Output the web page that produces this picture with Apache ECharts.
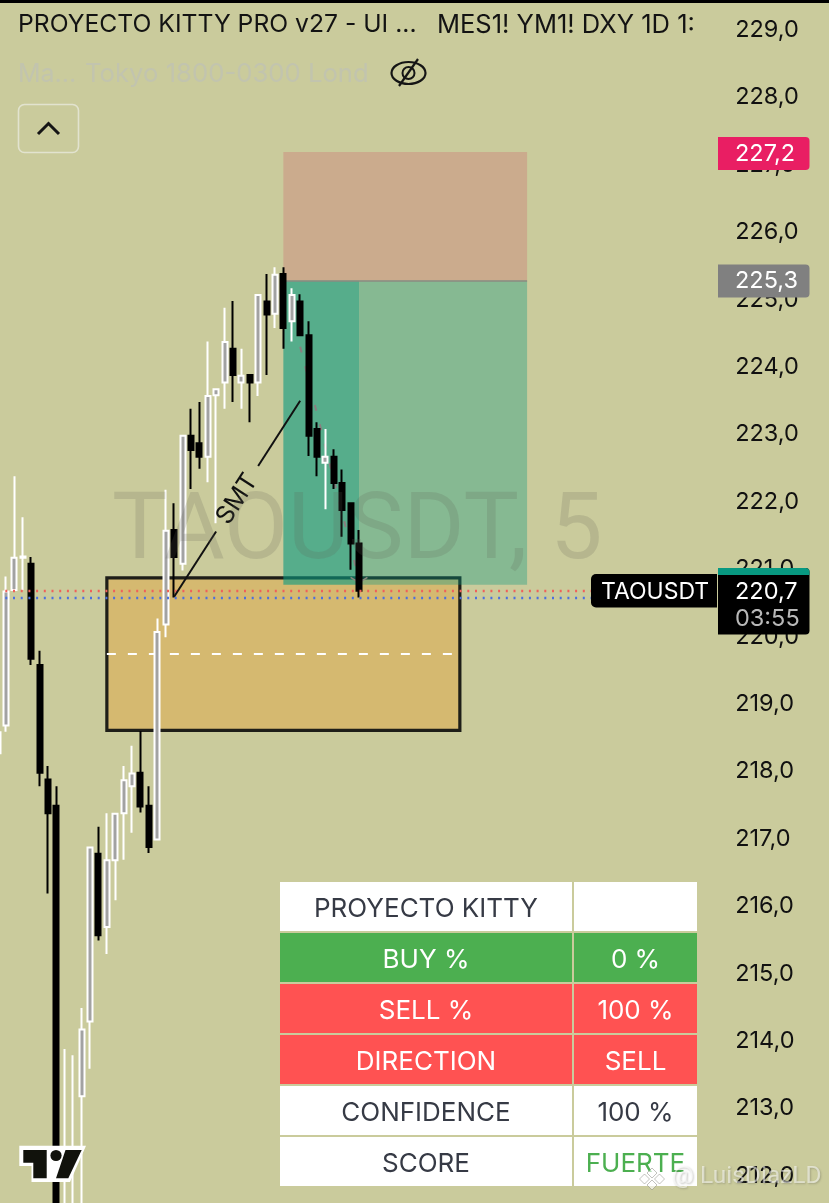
<!DOCTYPE html>
<html><head><meta charset="utf-8">
<style>html,body{margin:0;padding:0;background:#cacb9c}#c{width:829px;height:1203px}</style>
<script src="https://cdn.jsdelivr.net/npm/echarts@6/dist/echarts.min.js"></script>
</head><body><div id="c"></div>
<script>
// candle values, left to right (off-screen lows are estimates)
const opens  = [218.27,218.68,220.69,221.17,221.08,219.58,217.88,217.49,211.30,211.30,213.18,214.29,216.78,215.69,216.68,217.38,217.78,217.98,217.49,216.99,220.18,221.58,221.08,222.98,222.87,222.67,223.58,223.77,224.27,223.77,223.88,223.77,224.97,224.79,225.38,224.68,224.97,224.47,223.08,222.58,222.67,222.28,221.98,221.38];
const closes = [218.58,220.67,221.17,221.19,219.67,217.98,217.38,211.20,211.45,211.40,214.17,216.87,215.57,216.68,217.37,217.87,217.97,217.48,216.88,220.07,221.57,221.18,222.98,222.77,222.67,223.57,223.67,224.37,223.88,223.87,223.77,225.07,224.78,225.37,224.58,225.07,224.47,222.98,222.67,222.67,222.28,221.88,221.38,220.68];
const lows   = [218.27,218.59,220.69,220.69,219.58,217.78,216.19,211.20,211.30,211.30,211.40,213.59,215.49,215.29,216.09,216.69,217.09,217.39,216.79,216.99,219.99,220.58,220.98,222.19,222.49,222.29,221.68,223.38,223.48,223.38,223.18,223.57,223.88,224.58,224.27,224.38,224.47,222.68,222.38,221.89,222.19,221.48,220.99,220.58];
const highs  = [218.58,220.89,222.38,221.77,221.18,219.79,218.08,217.78,213.88,213.79,214.49,216.87,217.18,217.38,217.37,218.08,218.38,218.60,217.78,220.27,222.18,221.98,222.98,223.38,223.48,224.38,223.67,224.88,224.98,224.27,223.88,225.07,225.38,225.48,225.48,225.17,225.08,224.68,223.18,223.08,222.78,222.48,221.98,221.58];
const categoryCount = 86;
const categories = Array.from({length: categoryCount}, (_, i) => 'c' + i);
const tickMin = 211, tickMax = 230, tickStep = 1;

const stopLevel = 227.19, entryLevel = 225.28, targetLevel = 220.77;
const boxTop = 220.87, boxBottom = 218.61, boxMid = 219.745;
const priceRed = 220.68, priceBlue = 220.58;
const smtLow = [[21,220.59],[26,221.56]];
const smtHigh = [[31,222.53],[36,223.50]];
const dashedPath = [[36,224.30],[43,220.84]];
const arrowHead = [[42,220.88],[43,220.80],[44,220.88]];

const tableRows = [
  ['PROYECTO KITTY','', '#ffffff','#363a45','#363a45'],
  ['BUY %','0 %','#4caf50','#ffffff','#ffffff'],
  ['SELL %','100 %','#ff5252','#ffffff','#ffffff'],
  ['DIRECTION','SELL','#ff5252','#ffffff','#ffffff'],
  ['CONFIDENCE','100 %','#ffffff','#363a45','#363a45'],
  ['SCORE','FUERTE','#ffffff','#363a45','#4caf50']
];

const INTER = 'Inter, sans-serif', ROBOTO = 'Roboto, sans-serif';
function txt(x,y,text,size,fill,fam,align,z,extra){
  return {type:'text',z:z||20,silent:true,style:Object.assign({x,y,text,fontSize:size,fontFamily:fam||INTER,fill,
    align:align||'left',textAlign:align||'left',verticalAlign:'middle',textVerticalAlign:'middle'},extra||{})};
}
function box(x,y,w,h,fill,r,z,extra){
  return {type:'rect',z:z||20,silent:true,shape:{x,y,width:w,height:h,r:r||0},style:Object.assign({fill},extra||{})};
}

const g = [];
// big symbol watermark
g.push(txt(112,535,'TAOUSDT, 5',93,'rgba(95,95,85,0.19)',ROBOTO,'left',0));
// top strip and legends
g.push(box(0,0,829,3,'#000'));
g.push(txt(18,25,'PROYECTO KITTY PRO v27 - UI ...',24.7,'#131313'));
g.push(txt(437,25,'MES1! YM1! DXY 1D 1:',25.5,'#131313'));
g.push(txt(18,74,'Ma...',25,'#c2c4ae'));
g.push(txt(85,74,'Tokyo 1800-0300 Lond',25.7,'#c2c4ae'));
// eye icon
g.push({type:'ellipse',z:20,silent:true,shape:{cx:408.5,cy:73,rx:17,ry:11},style:{fill:'none',stroke:'#151515',lineWidth:2.2}});
g.push({type:'circle',z:20,silent:true,shape:{cx:408.5,cy:73,r:6},style:{fill:'none',stroke:'#151515',lineWidth:2}});
g.push({type:'line',z:20,silent:true,shape:{x1:399,y1:86,x2:418,y2:59},style:{stroke:'#151515',lineWidth:2.2}});
// collapse button
g.push(box(18.5,104.5,60,48,'none',6,20,{stroke:'#e2e3cf',lineWidth:1.6}));
g.push({type:'polyline',z:20,silent:true,shape:{points:[[38,134],[48.5,123.5],[59,134]]},style:{fill:'none',stroke:'#151515',lineWidth:3}});
// price tags
g.push(box(718,137,91.5,33,'#e91e63',[0,4,4,0]));
g.push(txt(735,153.5,'227,2',23.5,'#fff'));
g.push(box(718,264.5,91.5,33,'#808080',[0,4,4,0]));
g.push(txt(735,281,'225,3',23.5,'#fff'));
g.push(box(591,574,126,33.5,'#000',[5,0,0,5]));
g.push(txt(601,592,'TAOUSDT',23,'#fff'));
g.push(box(718,568,91.5,66.5,'#000',[0,4,4,0]));
g.push(box(718,568,91.5,7,'#089981',[0,4,0,0]));
g.push(txt(735,592,'220,7',23.5,'#fff'));
g.push(txt(735,619,'03:55',23.5,'#b8b8b8'));
// table
tableRows.forEach((row,i)=>{
  const y = 882 + i*51;
  g.push(box(280,y,292,49,row[2]));
  g.push(box(574,y,123,49,row[2]));
  g.push(txt(426,y+27,row[0],26,row[3],INTER,'center'));
  if(row[1]) g.push(txt(635.5,y+27,row[1],26,row[4],INTER,'center'));
});
// TV logo
g.push({type:'polygon',z:21,silent:true,shape:{points:[[19.3,1145.7],[86,1145.7],[70,1182],[31.5,1182],[31.5,1166],[19.3,1166]]},style:{fill:'#fff'}});
g.push({type:'polygon',z:22,silent:true,shape:{points:[[23.3,1150],[46.7,1150],[46.7,1178.3],[33.3,1178.3],[33.3,1162.7],[23.3,1162.7]]},style:{fill:'#11120c'}});
g.push({type:'circle',z:22,silent:true,shape:{cx:56,cy:1155.5,r:5.6},style:{fill:'#11120c'}});
g.push({type:'polygon',z:22,silent:true,shape:{points:[[65.5,1150],[81.7,1150],[68.3,1178.3],[56,1178.3]]},style:{fill:'#11120c'}});
// Author watermark
[[652,1173],[644.5,1179],[659.5,1179],[652,1185]].forEach(p=>{
  g.push({type:'polygon',z:23,silent:true,shape:{points:[[p[0],p[1]-5],[p[0]+5,p[1]],[p[0],p[1]+5],[p[0]-5,p[1]]]},style:{fill:'rgba(255,255,255,0.6)',stroke:'rgba(120,120,110,0.45)',lineWidth:1}});
});
g.push(txt(672,1177,'@ LuisDiazLD',24.5,'rgba(255,255,255,0.55)',ROBOTO,'left',23,{textShadowColor:'rgba(90,90,80,0.6)',textShadowBlur:2,textShadowOffsetX:1,textShadowOffsetY:1}));
// SMT annotation
g.push({type:'text',z:6,silent:true,x:237,y:499,rotation:0.995,
  style:{x:0,y:0,text:'SMT',fontSize:25,fontFamily:INTER,fill:'#111',align:'center',textAlign:'center',verticalAlign:'middle',textVerticalAlign:'middle'}});

const chart = echarts.init(document.getElementById('c'));
const candleData = opens.map((o,i)=>[o,closes[i],lows[i],highs[i]]);
const seg = (p,style)=>[{coord:p[0],lineStyle:style},{coord:p[1]}];
const hseg = (a,b,v,style)=>[{coord:[a,v],lineStyle:style},{coord:[b,v]}];

chart.setOption({
  animation:false,
  backgroundColor:'#cacb9c',
  tooltip:{show:false},
  grid:{left:-6.6,top:-37.4,width:722.8,height:1280.6,containLabel:false,outerBoundsMode:'none'},
  xAxis:{type:'category',data:categories,boundaryGap:true,show:false},
  yAxis:{type:'value',position:'right',min:tickMin,max:tickMax,interval:tickStep,scale:true,
    axisLine:{show:false},axisTick:{show:false},splitLine:{show:false},
    axisLabel:{color:'#111',fontFamily:'Inter, sans-serif',fontSize:23.5,margin:19,hideOverlap:false,
      padding:[3,0,0,0],showMinLabel:true,showMaxLabel:true,
      formatter:v=>v.toFixed(1).replace('.',',')}},
  graphic:{elements:g},
  series:[
    {type:'candlestick',z:3,barWidth:5.5,data:candleData,silent:true,
      itemStyle:{color:'#a2a2a2',color0:'#000',borderColor:'#fff',borderColor0:'#000',borderWidth:2},
      markArea:{silent:true,z:1,data:[
        [{xAxis:13,yAxis:boxTop,itemStyle:{color:'#d5b970',borderColor:'#1e1e18',borderWidth:3.2}},{xAxis:55,yAxis:boxBottom}],
        [{xAxis:34,yAxis:stopLevel,itemStyle:{color:'#cbab8d'}},{xAxis:63,yAxis:entryLevel}],
        [{xAxis:34,yAxis:entryLevel,itemStyle:{color:'rgba(8,153,129,0.6)'}},{xAxis:43,yAxis:targetLevel}],
        [{xAxis:43,yAxis:entryLevel,itemStyle:{color:'rgba(8,153,129,0.35)'}},{xAxis:63,yAxis:targetLevel}]
      ]},
      markLine:{silent:true,z:2,symbol:'none',label:{show:false},data:[
        hseg(13,55,boxMid,{color:'#fff',width:2,type:[9,12]}),
        hseg(34,63,entryLevel,{color:'#8b8b80',width:1.5,type:'solid'})
      ]}
    },
    {type:'line',z:2,data:dashedPath,showSymbol:false,silent:true,lineStyle:{color:'#8a7f80',width:2,type:[6,14]}},
    {type:'line',z:2,data:arrowHead,showSymbol:false,silent:true,lineStyle:{color:'#8a8a80',width:1.5}},
    {type:'line',z:5,data:[],silent:true,
      markLine:{silent:true,z:5,symbol:'none',label:{show:false},data:[
        hseg(0,71,priceRed,{color:'#f0605a',width:2.4,type:[2,5.7]}),
        hseg(0,71,priceBlue,{color:'#4a6fe0',width:2.4,type:[2,5.7]}),
        seg(smtLow,{color:'#111',width:2,type:'solid'}),
        seg(smtHigh,{color:'#111',width:2,type:'solid'})
      ]}
    }
  ]
});
</script></body></html>
